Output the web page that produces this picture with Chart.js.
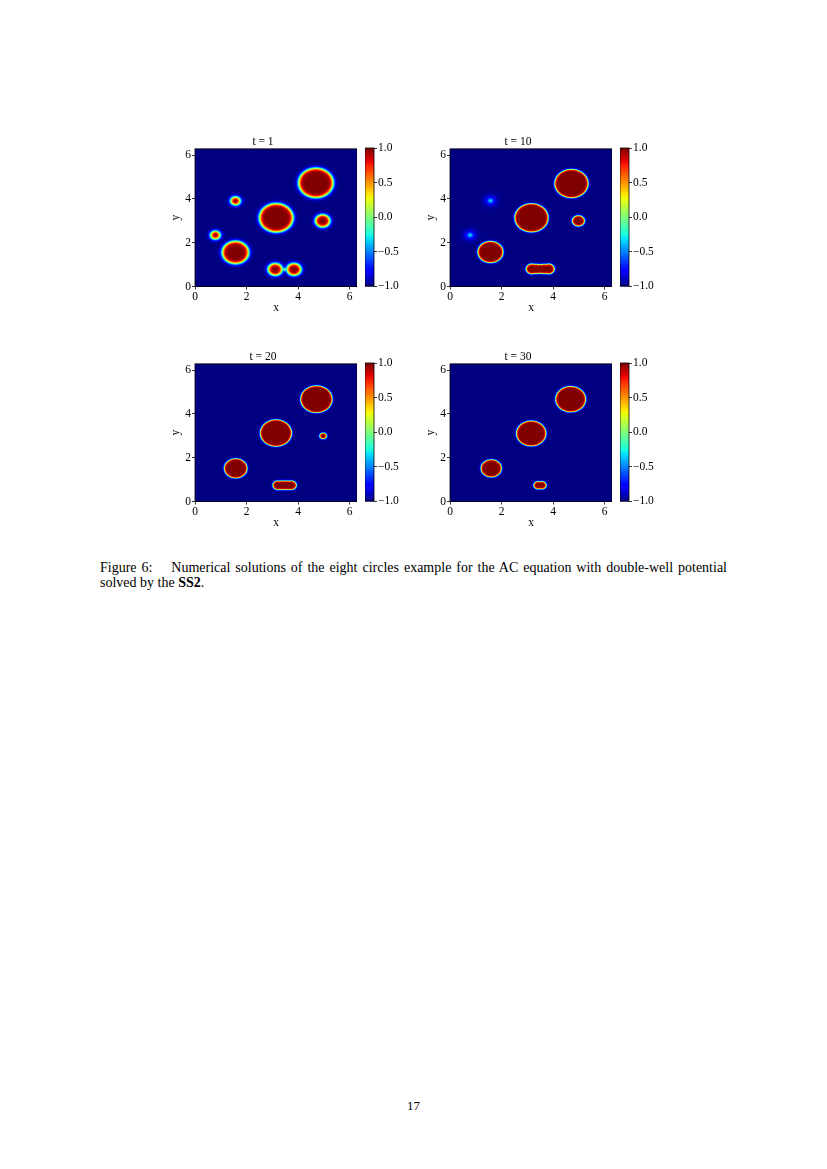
<!DOCTYPE html>
<html>
<head>
<meta charset="utf-8">
<script src="https://cdn.jsdelivr.net/npm/chart.js@4.4.1/dist/chart.umd.min.js"></script>
<style>
    body { margin: 0; background: #fff; width: 827px; height: 1169px; position: relative; overflow: hidden; font-family: "Liberation Serif", serif; color: #000; }
    canvas { position: absolute; }
    .cap { position: absolute; left: 100px; width: 627px; font-size: 14px; line-height: 14.5px; }
    .line1 { text-align: justify; text-align-last: justify; white-space: nowrap; }
    .page { position: absolute; left: 0; width: 827px; top: 1098px; text-align: center; font-size: 13px; }
</style>
</head>
<body>
<div class="cap" style="top:561px">
    <div class="line1">Figure 6:&emsp; Numerical solutions of the eight circles example for the AC equation with double-well potential</div>
    <div>solved by the <b>SS2</b>.</div>
</div>
<div class="page">17</div>

<script>
// --- data ---
const times = [1, 10, 20, 30];
const xTicks = [0, 2, 4, 6];
const yTicks = [0, 2, 4, 6];
const barTicks = [-1, -0.5, 0, 0.5, 1];

// drops in each snapshot: centre, radius of the u = 0 contour, interface width
const blobX = [
    [4.69, 3.15, 4.95, 1.57, 0.79, 1.57, 3.11, 3.84, 3.475],
    [4.71, 3.16, 4.98, 1.57, 0.78, 1.57, 3.18, 3.34, 3.50, 3.66, 3.82],
    [4.71, 3.14, 4.97, 1.58, 3.22, 3.35, 3.475, 3.60, 3.73],
    [4.68, 3.15, 1.60, 3.42, 3.56]
];
const blobY = [
    [4.73, 3.14, 3.00, 3.91, 2.35, 1.56, 0.79, 0.79, 0.79],
    [4.70, 3.14, 3.00, 3.92, 2.35, 1.58, 0.81, 0.81, 0.81, 0.81, 0.81],
    [4.67, 3.13, 3.00, 1.52, 0.75, 0.75, 0.75, 0.75, 0.75],
    [4.67, 3.11, 1.52, 0.75, 0.75]
];
const blobR = [
    [0.67, 0.65, 0.28, 0.18, 0.18, 0.51, 0.27, 0.27, 0.03],
    [0.65, 0.65, 0.24, -0.04, -0.04, 0.49, 0.23, 0.22, 0.21, 0.22, 0.23],
    [0.615, 0.61, 0.135, 0.445, 0.205, 0.205, 0.205, 0.205, 0.205],
    [0.585, 0.575, 0.40, 0.175, 0.175]
];
const blobW = [
    [0.09, 0.09, 0.09, 0.09, 0.09, 0.09, 0.09, 0.09, 0.09],
    [0.045, 0.045, 0.045, 0.2, 0.2, 0.045, 0.045, 0.045, 0.045, 0.045, 0.045],
    [0.04, 0.04, 0.04, 0.04, 0.04, 0.04, 0.04, 0.04, 0.04],
    [0.04, 0.04, 0.04, 0.04, 0.04]
];

const font = { family: '"Liberation Serif", serif', size: 11.5, weight: 'normal' };

// matplotlib jet
const jetR = [[0, 0], [0.35, 0], [0.66, 1], [0.89, 1], [1, 0.5]];
const jetG = [[0, 0], [0.125, 0], [0.375, 1], [0.64, 1], [0.91, 0], [1, 0]];
const jetB = [[0, 0.5], [0.11, 1], [0.34, 1], [0.65, 0], [1, 0]];

function interp(seg, t) {
    for (let i = 1; i < seg.length; i++) {
        if (t <= seg[i][0]) {
            const [t0, v0] = seg[i - 1], [t1, v1] = seg[i];
            return v0 + (v1 - v0) * (t - t0) / (t1 - t0);
        }
    }
    return seg[seg.length - 1][1];
}
function jet(t) {
    t = Math.min(1, Math.max(0, t));
    return [interp(jetR, t), interp(jetG, t), interp(jetB, t)].map(v => Math.round(v * 255));
}

// draws the phase field u from the drops in the dataset
const heatmap = {
    id: 'heatmap',
    beforeDatasetsDraw(chart) {
        const { ctx, chartArea: a, scales: { x, y } } = chart;
        const drops = chart.data.datasets[0].data;
        const k = 2;
        const w = Math.round((a.right - a.left) * k), h = Math.round((a.bottom - a.top) * k);
        const off = document.createElement('canvas');
        off.width = w; off.height = h;
        const octx = off.getContext('2d');
        const img = octx.createImageData(w, h);
        for (let j = 0; j < h; j++) {
            const vy = y.getValueForPixel(a.top + (j + 0.5) / k);
            for (let i = 0; i < w; i++) {
                const vx = x.getValueForPixel(a.left + (i + 0.5) / k);
                let u = -1;
                drops.forEach(p => {
                    const d = Math.hypot(vx - p.x, vy - p.y);
                    u = Math.max(u, Math.tanh((p.r - d) / p.w));
                });
                const c = jet((u + 1) / 2);
                const o = (j * w + i) * 4;
                img.data[o] = c[0]; img.data[o + 1] = c[1]; img.data[o + 2] = c[2]; img.data[o + 3] = 255;
            }
        }
        octx.putImageData(img, 0, 0);
        ctx.save();
        ctx.imageSmoothingEnabled = true;
        ctx.drawImage(off, a.left, a.top, a.right - a.left, a.bottom - a.top);
        ctx.restore();
    },
    afterDraw(chart) {
        const { ctx, chartArea: a } = chart;
        ctx.save();
        ctx.strokeStyle = '#000';
        ctx.lineWidth = 0.8;
        ctx.strokeRect(a.left, a.top, a.right - a.left, a.bottom - a.top);
        ctx.restore();
    }
};

// colour bar strips from the bar's own y scale
const colorbar = {
    id: 'colorbar',
    beforeDatasetsDraw(chart) {
        const { ctx, chartArea: a, scales: { y } } = chart;
        const n = 200;
        for (let i = 0; i < n; i++) {
            const v0 = y.min + (y.max - y.min) * i / n;
            const v1 = y.min + (y.max - y.min) * (i + 1) / n;
            const c = jet((v0 + v1) / 2 * 0.5 + 0.5);
            const p0 = y.getPixelForValue(v0), p1 = y.getPixelForValue(v1);
            ctx.fillStyle = `rgb(${c[0]},${c[1]},${c[2]})`;
            ctx.fillRect(a.left, p1, a.right - a.left, p0 - p1 + 0.6);
        }
    },
    afterDraw(chart) {
        const { ctx, chartArea: a } = chart;
        ctx.save();
        ctx.strokeStyle = '#000';
        ctx.lineWidth = 0.8;
        ctx.strokeRect(a.left, a.top, a.right - a.left, a.bottom - a.top);
        ctx.restore();
    }
};

function addCanvas(left, top, w, h) {
    const c = document.createElement('canvas');
    c.width = w; c.height = h;
    c.style.left = left + 'px'; c.style.top = top + 'px';
    c.style.width = w + 'px'; c.style.height = h + 'px';
    document.body.appendChild(c);
    return c.getContext('2d');
}

const tickGrid = { drawOnChartArea: false, tickLength: 3, color: '#000', lineWidth: 0.8 };

times.forEach((t, p) => {
    const col = p % 2, row = Math.floor(p / 2);
    const dx = col * 255, dy = row * 215;

    const drops = blobX[p].map((x, i) => ({ x: x, y: blobY[p][i], r: blobR[p][i], w: blobW[p][i] }));

    new Chart(addCanvas(169 + dx, 135 + dy, 188, 180), {
        type: 'scatter',
        data: { datasets: [{ data: drops, pointRadius: 0, showLine: false }] },
        options: {
            responsive: false,
            animation: false,
            layout: { padding: 0 },
            plugins: {
                legend: { display: false },
                tooltip: { enabled: false },
                title: { display: true, text: 't = ' + t, font: font, color: '#000', padding: 0 }
            },
            scales: {
                x: {
                    type: 'linear', min: 0, max: 2 * Math.PI,
                    afterBuildTicks: s => { s.ticks = xTicks.map(v => ({ value: v })); },
                    afterFit: s => { s.height = 28.5; },
                    ticks: { font: font, color: '#000', padding: 1, maxRotation: 0, callback: v => String(v) },
                    grid: tickGrid,
                    border: { display: false },
                    title: { display: true, text: 'x', font: font, color: '#000', padding: 0 }
                },
                y: {
                    type: 'linear', min: 0, max: 2 * Math.PI,
                    afterBuildTicks: s => { s.ticks = yTicks.map(v => ({ value: v })); },
                    afterFit: s => { s.width = 26; },
                    ticks: { font: font, color: '#000', padding: 1, callback: v => String(v) },
                    grid: tickGrid,
                    border: { display: false },
                    title: { display: true, text: 'y', font: font, color: '#000', padding: 0 }
                }
            }
        },
        plugins: [heatmap]
    });

    new Chart(addCanvas(365 + dx, 136 + dy, 39, 162), {
        type: 'scatter',
        data: { datasets: [{ data: [], pointRadius: 0 }] },
        options: {
            responsive: false,
            animation: false,
            layout: { padding: { top: 12, bottom: 12, left: 0, right: 0 } },
            plugins: { legend: { display: false }, tooltip: { enabled: false } },
            scales: {
                x: { display: false, min: 0, max: 1 },
                y: {
                    position: 'right', min: -1, max: 1,
                    afterBuildTicks: s => { s.ticks = barTicks.map(v => ({ value: v })); },
                    afterFit: s => { s.width = 30; },
                    ticks: { font: font, color: '#000', padding: 1, callback: v => (v < 0 ? '\u2212' : '') + Math.abs(v).toFixed(1) },
                    grid: tickGrid,
                    border: { display: false }
                }
            }
        },
        plugins: [colorbar]
    });
});
</script>
</body>
</html>
